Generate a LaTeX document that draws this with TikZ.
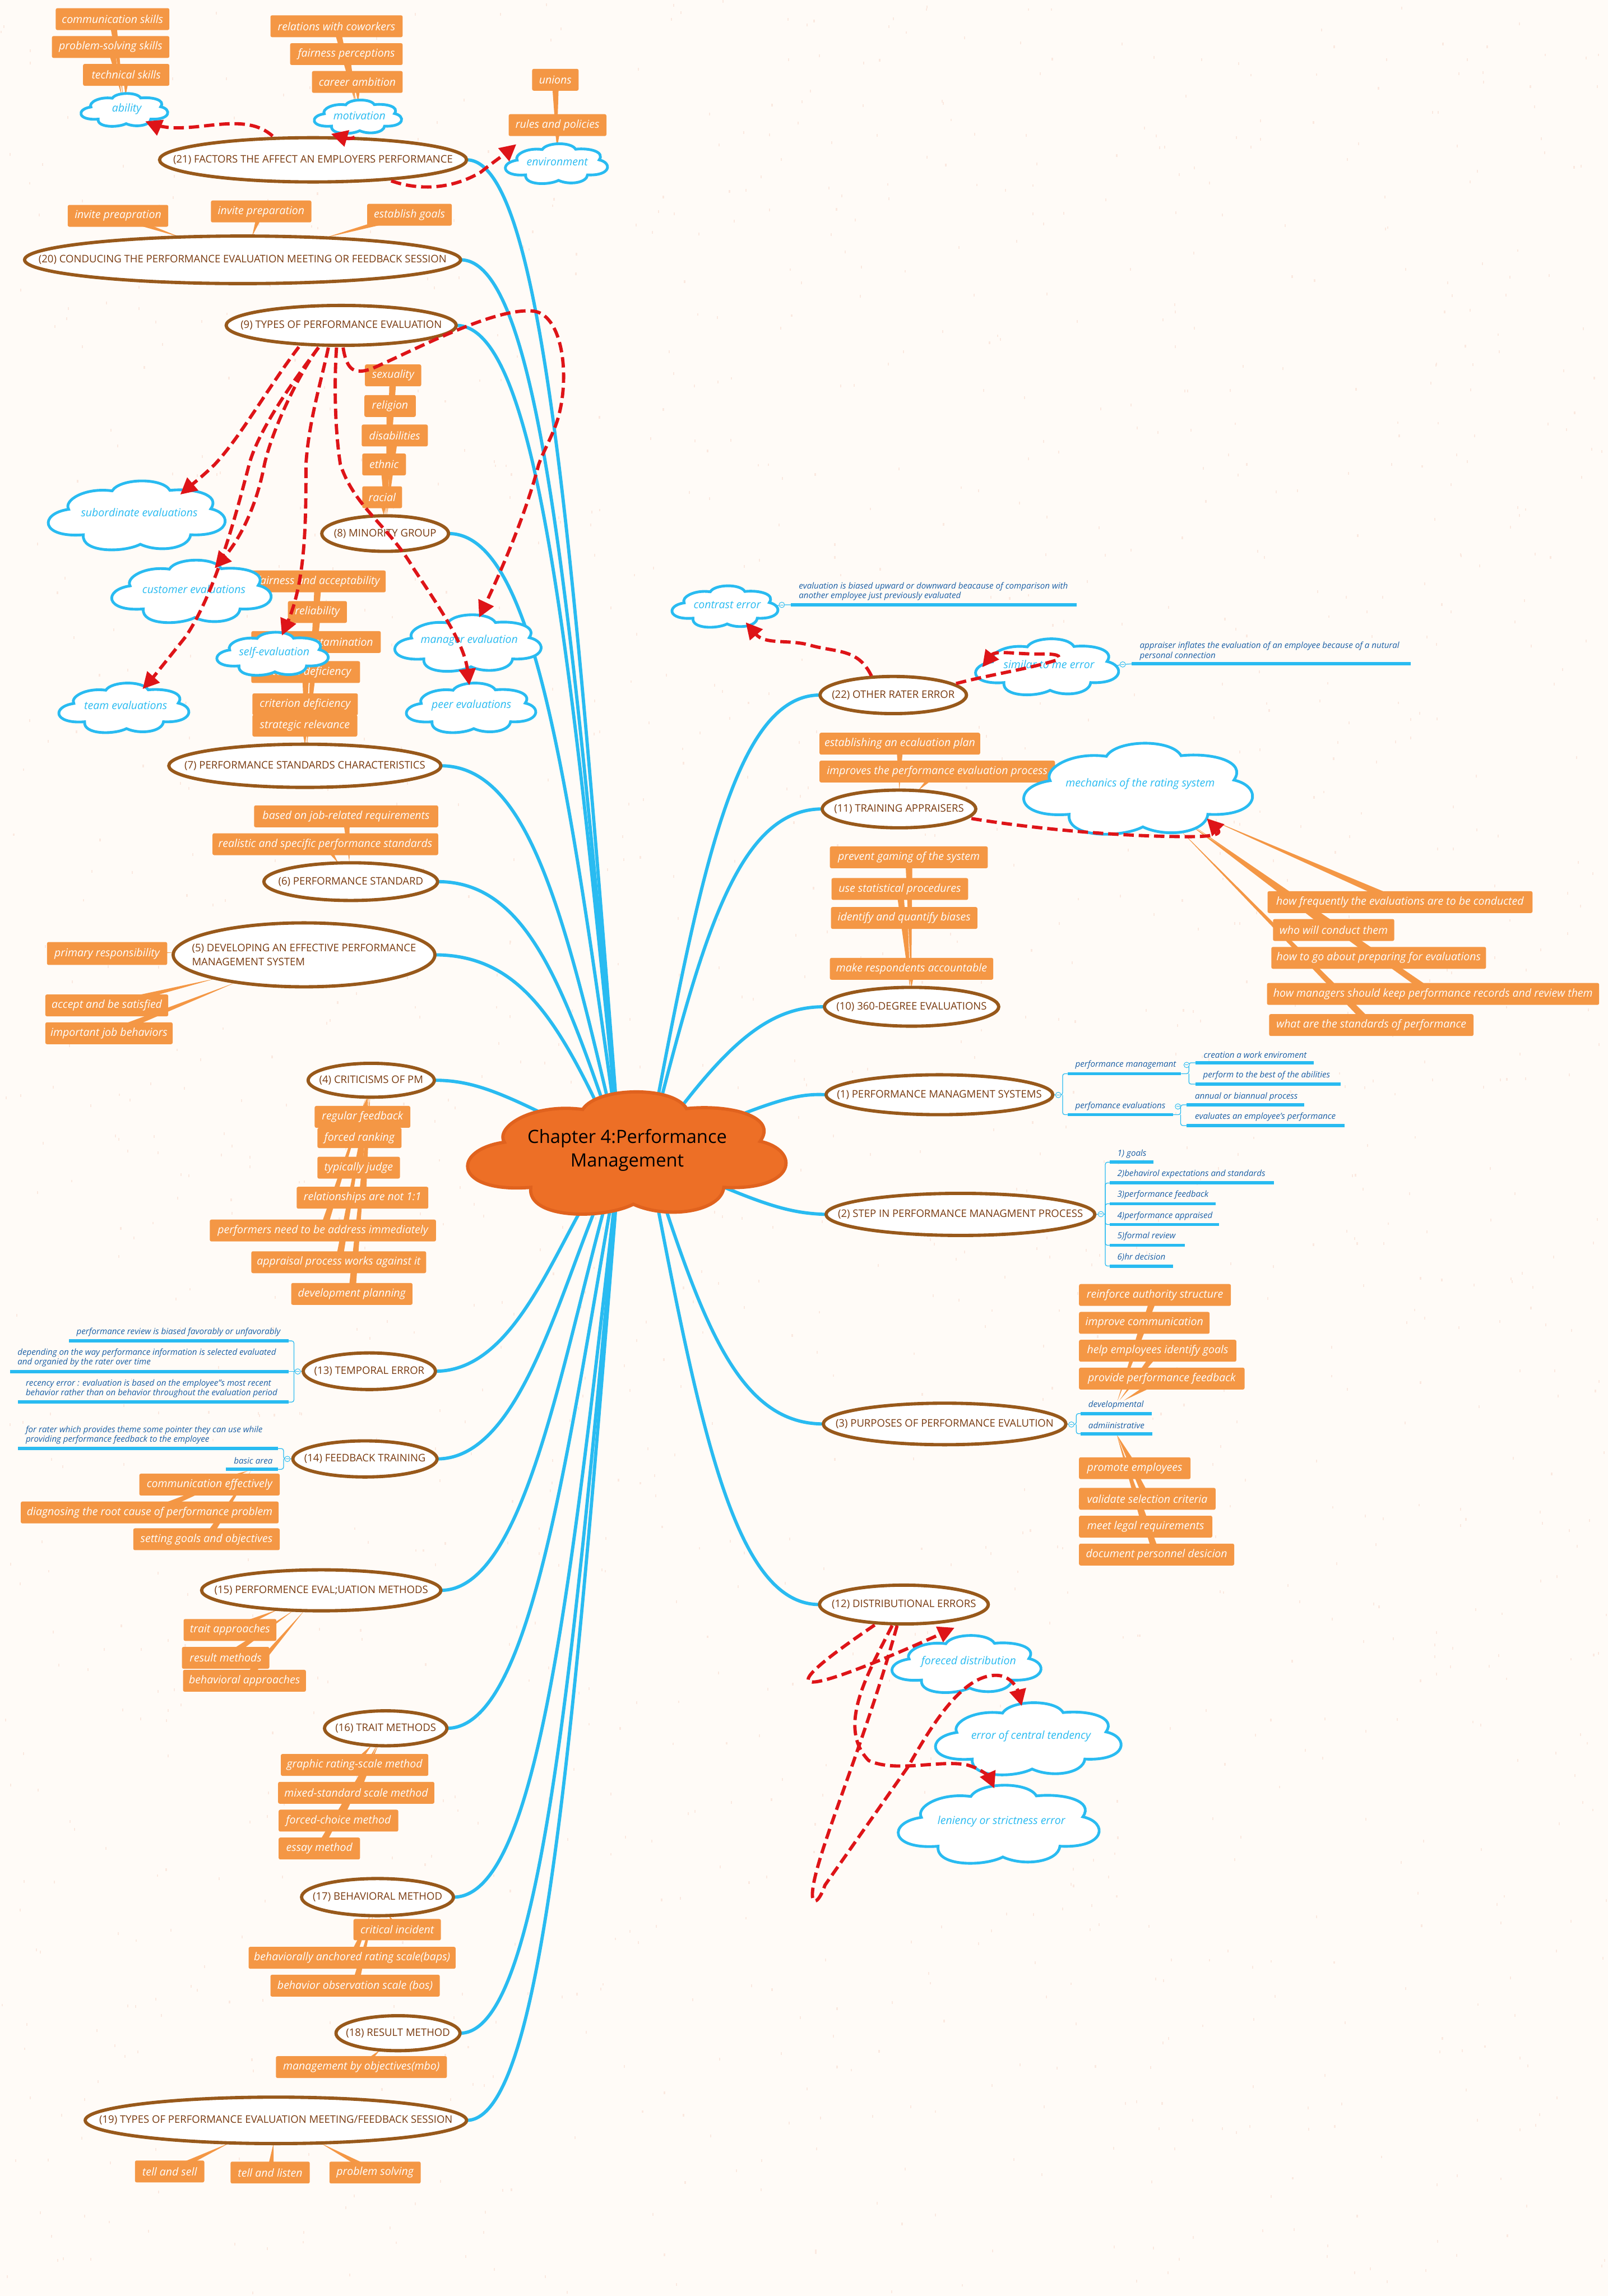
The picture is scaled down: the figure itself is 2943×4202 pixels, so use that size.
\documentclass[tikz,border=0pt]{standalone}
\usepackage{fontspec}
\setmainfont{Open Sans}
\usetikzlibrary{shapes.geometric,calc,arrows.meta}
\pgfdeclarelayer{bg}\pgfdeclarelayer{lines}\pgfdeclarelayer{top}
\pgfsetlayers{bg,lines,main,top}
\definecolor{pagebg}{HTML}{FFFBF7}
\definecolor{speck}{HTML}{FBE9E0}
\definecolor{boxc}{HTML}{F49745}
\definecolor{brownl}{HTML}{98591B}
\definecolor{brownt}{HTML}{7A3B10}
\definecolor{blueb}{HTML}{29BBF1}
\definecolor{notec}{HTML}{1A5FA6}
\definecolor{redc}{HTML}{DE1418}
\definecolor{rootf}{HTML}{ED6F26}
\definecolor{roots}{HTML}{E0621E}
\tikzset{
 x=1pt,y=-1pt,
 obx/.style={rectangle,fill=boxc,rounded corners=3pt,inner sep=0pt,outer sep=0pt,text=white,font=\fontsize{20}{24}\selectfont\itshape},
 tpc/.style={ellipse,draw=brownl,fill=white,line width=6pt,inner sep=0pt,outer sep=0pt},
 tpctxt/.style={inner sep=0pt,text=brownt,font=\fontsize{19}{25}\selectfont,align=left},
 cld/.style={draw=blueb,fill=white,line width=5pt},
 cldtxt/.style={inner sep=0pt,text=blueb,font=\fontsize{20}{24}\selectfont\itshape},
 barsty/.style={rectangle,fill=blueb,inner sep=0pt,outer sep=0pt,minimum height=6pt},
 notesty/.style={inner sep=0pt,anchor=west,align=left,text=notec,font=\fontsize{15.5}{17.7}\selectfont\itshape},
 branch/.style={draw=blueb,line width=6pt},
 brk/.style={draw=blueb,line width=1.3pt,rounded corners=4pt},
 minusc/.style={circle,draw=blueb,line width=1pt,fill=pagebg,inner sep=0pt,minimum size=10pt},
 redl/.style={draw=redc,line width=6pt,dash pattern=on 19pt off 9pt},
 reda/.style={redl,-{Triangle[length=30pt,width=30pt,fill=redc]}},
 tailf/.style={fill=boxc},
}
\newcommand\obox[6]{\node[obx,minimum width={(#3-#2)*1pt},minimum height={(#5-#4)*1pt}] (#1) at ({(#2+#3)/2},{(#4+#5)/2}) {#6};}
\newcommand\topic[6]{\node[tpc,minimum width={(#3-#2-6)*1pt},minimum height={(#5-#4-6)*1pt}] (#1) at ({(#2+#3)/2},{(#4+#5)/2}) {};\node[tpctxt] (#1-t) at (#1.center) {#6};}
\newcommand\cloudpath{(.11,.407) .. controls (.08,.28) and (.2,.09) .. (.356,.143) .. controls (.40,-.04) and (.64,-.05) .. (.682,.136) .. controls (.82,.10) and (.97,.2) .. (.913,.4) .. controls (1.04,.47) and (1.03,.80) .. (.799,.771) .. controls (.79,.97) and (.62,1.03) .. (.515,.907) .. controls (.42,1.03) and (.18,1.03) .. (.193,.771) .. controls (-.05,.82) and (-.06,.47) .. (.11,.407) -- cycle}
\newcommand\cloudt[8]{\draw[cld,shift={(#2,#4)},xscale=#3-#2,yscale=#5-#4] \cloudpath;\node[ellipse,inner sep=0pt,outer sep=0pt,minimum width={(#3-#2)*.85pt},minimum height={(#5-#4)*.85pt}] (#1) at ({(#2+#3)/2},{(#4+#5)/2}) {};\node[cldtxt] (#1-t) at (#6,#7) {#8};}
\newcommand\nb[4]{\node[barsty,minimum width={(#3-#2)*1pt}] (#1) at ({(#2+#3)/2},#4) {};}
\newcommand\nt[4]{\node[notesty] (#1) at (#2,#3) {#4};}
\newcommand\mns[3]{\node[minusc] (#1) at (#2,#3) {};\draw[draw=blueb,line width=1pt] ([xshift=-3pt]#1.center) -- ([xshift=3pt]#1.center);}
\newcommand\tl[2]{\path let \p1=(#1.center),\p2=(#2.center) in \pgfextra{\pgfmathsetmacro\tang{atan2(\y1-\y2,\x1-\x2)}\xdef\tangg{\tang}};
\fill[tailf] let \p1=(#1.center),\p2=(#2.\tangg),\n1={atan2(\y2-\y1,\x2-\x1)} in ({\x1-6.5pt*sin(\n1)},{\y1+6.5pt*cos(\n1)}) -- (\p2) -- ({\x1+6.5pt*sin(\n1)},{\y1-6.5pt*cos(\n1)}) -- cycle;}
\newcommand\br[5]{\draw[branch] let \p1=(#1),\p2=(#2),\n1={\x2-\x1},\n2={\y2-\y1} in (\p1) .. controls ({\x1+#3*\n1},\y1) and ({\x1+#4*\n1},{\y1+#5*\n2}) .. (\p2);}
\begin{document}
\begin{tikzpicture}
\useasboundingbox (0,0) rectangle (2943,4202);
\begin{pgfonlayer}{bg}
\fill[pagebg] (0,0) rectangle (2943,4202);
\pgfmathsetseed{11}
\foreach \i in {1,...,1600}{\pgfmathsetmacro\px{random(0,2940)}\pgfmathsetmacro\py{random(0,4195)}\fill[speck] (\px,\py) rectangle +(2.2,5);}
\end{pgfonlayer}
% boxes
\obox{comm}{102}{310}{15}{55}{communication skills}
\obox{prob}{95}{310}{66}{106}{problem-solving skills}
\obox{tech}{152}{310}{117}{157}{technical skills}
\obox{rela}{495}{737}{28}{68}{relations with coworkers}
\obox{fair}{531}{737}{79}{119}{fairness perceptions}
\obox{care}{571}{737}{130}{170}{career ambition}
\obox{unio}{974}{1059}{126}{166}{unions}
\obox{rule}{931}{1110}{209}{249}{rules and policies}
\obox{ipre}{124}{308}{375}{415}{invite preapration}
\obox{ipar}{386}{570}{367}{407}{invite preparation}
\obox{esta}{672}{827}{373}{413}{establish goals}
\obox{sexu}{668}{771}{667}{707}{sexuality}
\obox{reli}{667}{761}{723}{763}{religion}
\obox{disa}{662}{783}{777}{817}{disabilities}
\obox{ethn}{663}{743}{830}{870}{ethnic}
\obox{raci}{663}{736}{890}{930}{racial}
\obox{facc}{459}{706}{1044}{1084}{fairness and acceptability}
\obox{rbil}{527}{635}{1100}{1140}{reliability}
\obox{ccon}{460}{697}{1155}{1195}{criterion contamination}
\obox{cde1}{460}{659}{1210}{1250}{criterion  deficiency}
\obox{cde2}{462}{655}{1269}{1309}{criterion deficiency}
\obox{stra}{462}{654}{1308}{1348}{strategic relevance}
\obox{jobr}{465}{802}{1474}{1514}{based on job-related requirements}
\obox{real}{389}{802}{1525}{1565}{realistic and specific performance standards}
\obox{prim}{86}{306}{1724}{1766}{primary responsibility}
\obox{acce}{83}{308}{1820}{1860}{accept and be satisfied}
\obox{impo}{83}{316}{1871}{1911}{important job behaviors}
\obox{regu}{576}{751}{2024}{2064}{regular feedback}
\obox{forc}{581}{735}{2064}{2101}{forced ranking}
\obox{typi}{581}{732}{2117}{2157}{typically judge}
\obox{rel1}{543}{784}{2172}{2212}{relationships are not 1:1}
\obox{perf}{384}{798}{2232}{2272}{performers need to be address immediately}
\obox{appr}{460}{780}{2290}{2330}{appraisal process works against it}
\obox{deve}{533}{755}{2348}{2388}{development planning}
\obox{coef}{255}{512}{2697}{2737}{communication effectively}
\obox{diag}{38}{510}{2748}{2788}{diagnosing the root cause of performance problem}
\obox{sett}{244}{512}{2797}{2837}{setting goals and objectives}
\obox{trai}{336}{506}{2963}{3003}{trait approaches}
\obox{resu}{333}{493}{3014}{3054}{result methods}
\obox{beha}{335}{560}{3056}{3096}{behavioral approaches}
\obox{grap}{514}{784}{3210}{3250}{graphic rating-scale method}
\obox{mixe}{509}{795}{3261}{3301}{mixed-standard scale method}
\obox{fcho}{510}{729}{3312}{3352}{forced-choice method}
\obox{essa}{510}{659}{3363}{3403}{essay method}
\obox{crit}{647}{807}{3512}{3551}{critical incident}
\obox{bars}{455}{834}{3563}{3603}{behaviorally anchored rating scale(baps)}
\obox{bobs}{495}{805}{3614}{3654}{behavior observation scale (bos)}
\obox{mbo}{505}{818}{3763}{3803}{management by objectives(mbo)}
\obox{tsel}{247}{374}{3954}{3994}{tell and sell}
\obox{tlis}{422}{567}{3956}{3996}{tell and listen}
\obox{psol}{603}{770}{3956}{3996}{problem solving}
\obox{esta2}{1500}{1794}{1341}{1381}{establishing an ecaluation plan}
\obox{impr}{1500}{1931}{1392}{1432}{improves the performance evaluation process}
\obox{prev}{1519}{1808}{1549}{1589}{prevent gaming of the system}
\obox{usta}{1522}{1772}{1607}{1647}{use statistical procedures}
\obox{iden}{1521}{1789}{1660}{1700}{identify and quantify biases}
\obox{make}{1519}{1818}{1753}{1793}{make respondents accountable}
\obox{hfre}{2320}{2805}{1631}{1671}{how frequently the evaluations are to be conducted}
\obox{whow}{2330}{2552}{1682}{1722}{who will conduct them}
\obox{htog}{2327}{2720}{1733}{1773}{how to go about preparing for evaluations}
\obox{hman}{2319}{2927}{1799}{1839}{how managers should keep performance records and review them}
\obox{wsta}{2323}{2697}{1856}{1896}{what are the standards of performance}
\obox{rein}{1975}{2253}{2350}{2390}{reinforce authority structure}
\obox{icom}{1975}{2214}{2401}{2441}{improve communication}
\obox{help}{1975}{2263}{2452}{2492}{help employees identify goals}
\obox{prov}{1975}{2278}{2503}{2543}{provide performance feedback}
\obox{prom}{1975}{2179}{2667}{2707}{promote employees}
\obox{vali}{1975}{2225}{2723}{2763}{validate selection criteria}
\obox{meet}{1975}{2219}{2774}{2814}{meet legal requirements}
\obox{docu}{1975}{2259}{2825}{2865}{document personnel desicion}
% topics
\topic{t21}{289}{857}{249}{336}{(21) FACTORS THE AFFECT AN EMPLOYERS PERFORMANCE}
\topic{t20}{42}{846}{429}{522}{(20) CONDUCING THE PERFORMANCE EVALUATION MEETING OR FEEDBACK SESSION}
\topic{t9}{411}{838}{556}{635}{(9) TYPES OF PERFORMANCE EVALUATION}
\topic{t8}{586}{824}{941}{1012}{(8) MINORITY GROUP}
\topic{t7}{306}{810}{1359}{1444}{(7) PERFORMANCE STANDARDS CHARACTERISTICS}
\topic{t6}{480}{804}{1576}{1651}{(6) PERFORMANCE STANDARD}
\topic{t5}{314}{799}{1686}{1809}{(5) DEVELOPING AN EFFECTIVE PERFORMANCE\\MANAGEMENT SYSTEM}
\topic{t4}{561}{798}{1943}{2011}{(4) CRITICISMS OF PM}
\topic{t13}{552}{800}{2473}{2546}{(13) TEMPORAL ERROR}
\topic{t14}{533}{803}{2634}{2706}{(14) FEEDBACK TRAINING}
\topic{t15}{366}{810}{2870}{2951}{(15) PERFORMENCE EVAL;UATION METHODS}
\topic{t16}{591}{821}{3128}{3198}{(16) TRAIT METHODS}
\topic{t17}{549}{833}{3435}{3509}{(17) BEHAVIORAL METHOD}
\topic{t18}{612}{845}{3686}{3756}{(18) RESULT METHOD}
\topic{t19}{153}{857}{3835}{3926}{(19) TYPES OF PERFORMANCE EVALUATION MEETING/FEEDBACK SESSION}
\topic{t22}{1498}{1772}{1235}{1309}{(22) OTHER RATER ERROR}
\topic{t11}{1502}{1789}{1443}{1518}{(11) TRAINING APPRAISERS}
\topic{t10}{1506}{1831}{1804}{1881}{(10) 360-DEGREE EVALUATIONS}
\topic{t1}{1509}{1930}{1964}{2043}{(1) PERFORMANCE MANAGMENT SYSTEMS}
\topic{t2}{1509}{2007}{2181}{2264}{(2) STEP IN PERFORMANCE MANAGMENT PROCESS}
\topic{t3}{1504}{1954}{2565}{2647}{(3) PURPOSES OF PERFORMANCE EVALUTION}
\topic{t12}{1497}{1812}{2898}{2975}{(12) DISTRIBUTIONAL ERRORS}
% clouds
\cloudt{abil}{149}{308}{171}{232}{232}{199}{ability}
\cloudt{moti}{576}{736}{183}{245}{658}{212}{motivation}
\cloudt{envi}{926}{1113}{263}{337}{1020}{296}{environment}
\cloudt{subo}{90}{414}{880}{1008}{255}{938}{subordinate evaluations}
\cloudt{cust}{206}{498}{1025}{1141}{355}{1078}{customer evaluations}
\cloudt{self}{398}{602}{1157}{1237}{502}{1194}{self-evaluation}
\cloudt{team}{109}{347}{1250}{1342}{230}{1291}{team evaluations}
\cloudt{mana}{724}{992}{1125}{1230}{859}{1172}{manager evaluation}
\cloudt{peer}{745}{982}{1250}{1342}{863}{1291}{peer evaluations}
\cloudt{cont}{1231}{1425}{1072}{1149}{1331}{1107}{contrast error}
\cloudt{simi}{1787}{2049}{1169}{1273}{1920}{1216}{similar to me error}
\cloudt{mech}{1876}{2295}{1360}{1529}{2087}{1435}{mechanics of the rating system}
\cloudt{fore}{1634}{1907}{2993}{3099}{1773}{3041}{foreced distribution}
\cloudt{cent}{1714}{2054}{3116}{3250}{1887}{3177}{error of central tendency}
\cloudt{leni}{1646}{2014}{3267}{3412}{1833}{3333}{leniency or strictness error}
% root
\draw[draw=roots,fill=rootf,line width=6pt,shift={(859,1998)},xscale=583,yscale=227] \cloudpath;
\node[inner sep=0pt,align=center,text=black,font=\fontsize{33.5}{44}\selectfont] (root) at (1148,2105) {Chapter 4:Performance\\Management};
\coordinate (rootL) at (1135,2110);
\coordinate (rootR) at (1185,2110);
% notes
\nb{n1}{1448}{1971}{1107}\nt{n1t}{1462}{1082.5}{evaluation is biased upward or downward beacause of comparison with\\another employee just previously evaluated}
\nb{n2}{2071}{2582}{1215}\nt{n2t}{2086}{1191.5}{appraiser inflates the evaluation of an employee because of a nutural\\personal connection}
\nb{pm}{1954}{2162}{1965}\nt{pmt}{1968}{1949}{performance managemant}
\nb{pe}{1954}{2147}{2040}\nt{pet}{1968}{2025}{perfomance evaluations}
\nb{cw}{2188}{2405}{1945}\nt{cwt}{2203}{1931}{creation a work enviroment}
\nb{pb}{2188}{2454}{1984}\nt{pbt}{2202}{1968}{perform to the best of the abilities}
\nb{ab}{2172}{2387}{2022}\nt{abt}{2187}{2007}{annual or biannual process}
\nb{ee}{2172}{2461}{2060}\nt{eet}{2187}{2044}{evaluates an employee's performance}
\nb{s1}{2031}{2111}{2127}\nt{s1t}{2045}{2112}{1) goals}
\nb{s2}{2031}{2332}{2165}\nt{s2t}{2045}{2149}{2)behavirol expectations and standards}
\nb{s3}{2031}{2225}{2203}\nt{s3t}{2045}{2187}{3)performance feedback}
\nb{s4}{2031}{2231}{2241}\nt{s4t}{2045}{2226}{4)performance appraised}
\nb{s5}{2031}{2169}{2279}\nt{s5t}{2045}{2263}{5)formal  review}
\nb{s6}{2031}{2147}{2317}\nt{s6t}{2045}{2301}{6)hr decision}
\nb{dv}{1978}{2108}{2587}\nt{dvt}{1992}{2571}{developmental}
\nb{ad}{1978}{2109}{2624}\nt{adt}{1992}{2609}{admiinistrative}
\nb{b1}{126}{528}{2454}\nt{b1t}{140}{2438}{performance review is biased favorably or unfavorably}
\nb{b2}{18}{528}{2510}\nt{b2t}{32}{2485}{depending on the way performance information is selected evaluated\\and organied by the rater over time}
\nb{b3}{33}{528}{2566}\nt{b3t}{47}{2541}{recency error : evaluation is based on the employee"s most recent\\behavior rather than on behavior throughout the evaluation period}
\nb{f1}{33}{509}{2651}\nt{f1t}{47}{2626}{for  rater which provides theme some pointer they can use while\\providing performance feedback to the employee}
\nb{f2}{413}{509}{2689}\nt{f2t}{428}{2673}{basic area}
% collapse markers
\mns{m1}{1431}{1107}\mns{m2}{2055}{1216}\mns{m3}{1937}{2004}\mns{m4}{2172}{1949}\mns{m5}{2156}{2025}\mns{m6}{2015}{2222}\mns{m7}{1961}{2607}\mns{m8}{545}{2510}\mns{m9}{526}{2670}
\begin{pgfonlayer}{lines}
% tails
\foreach \c in {comm,prob,tech}{\tl{\c}{abil}}
\foreach \c in {rela,fair,care}{\tl{\c}{moti}}
\foreach \c in {unio,rule}{\tl{\c}{envi}}
\foreach \c in {ipre,ipar,esta}{\tl{\c}{t20}}
\foreach \c in {sexu,reli,disa,ethn,raci}{\tl{\c}{t8}}
\foreach \c in {facc,rbil,ccon,cde1,cde2,stra}{\tl{\c}{t7}}
\foreach \c in {jobr,real}{\tl{\c}{t6}}
\foreach \c in {prim,acce,impo}{\tl{\c}{t5}}
\foreach \c in {regu,forc,typi,rel1,perf,appr,deve}{\tl{\c}{t4}}
\foreach \c in {coef,diag,sett}{\tl{\c}{f2}}
\foreach \c in {trai,resu,beha}{\tl{\c}{t15}}
\foreach \c in {grap,mixe,fcho,essa}{\tl{\c}{t16}}
\foreach \c in {crit,bars,bobs}{\tl{\c}{t17}}
\tl{mbo}{t18}
\foreach \c in {tsel,tlis,psol}{\tl{\c}{t19}}
\foreach \c in {esta2,impr}{\tl{\c}{t11}}
\foreach \c in {prev,usta,iden,make}{\tl{\c}{t10}}
\foreach \c in {hfre,whow,htog,hman,wsta}{\tl{\c}{mech}}
\foreach \c in {rein,icom,help,prov}{\tl{\c}{dvt}}
\foreach \c in {prom,vali,meet,docu}{\tl{\c}{ad}}
% main branches
\br{t21.east}{rootL}{.5}{.7}{.4}
\br{t20.east}{rootL}{.5}{.7}{.4}
\br{t9.east}{rootL}{.5}{.7}{.4}
\br{t8.east}{rootL}{.5}{.7}{.4}
\br{t7.east}{rootL}{.5}{.7}{.4}
\br{t6.east}{rootL}{.5}{.7}{.4}
\br{t5.east}{rootL}{.5}{.7}{.4}
\draw[branch] (t4.east) .. controls (880,1977) and (940,2010) .. (rootL);
\br{t13.east}{rootL}{.5}{.7}{.75}
\br{t14.east}{rootL}{.5}{.7}{.65}
\br{t15.east}{rootL}{.5}{.7}{.6}
\br{t16.east}{rootL}{.5}{.7}{.5}
\br{t17.east}{rootL}{.5}{.7}{.4}
\br{t18.east}{rootL}{.5}{.7}{.4}
\br{t19.east}{rootL}{.5}{.7}{.4}
\br{t22.west}{rootR}{.5}{.7}{.4}
\br{t11.west}{rootR}{.5}{.7}{.4}
\draw[branch] (t10.west) .. controls (1400,1842) and (1320,1920) .. (rootR);
\draw[branch] (t1.west) .. controls (1450,2000) and (1400,2020) .. (rootR);
\draw[branch] (t2.west) .. controls (1440,2220) and (1390,2205) .. (rootR);
\br{t3.west}{rootR}{.5}{.7}{.4}
\br{t12.west}{rootR}{.5}{.7}{.4}
% brackets
\coordinate (v3) at (1945,2004);
\draw[brk] (m3) -- (v3) |- (pm.west); \draw[brk] (v3) |- (pe.west);
\coordinate (v4) at (2176,1965);
\draw[brk] (pm.east) -- (v4) |- (cw.west); \draw[brk] (v4) |- (pb.west);
\coordinate (v5) at (2161,2040);
\draw[brk] (pe.east) -- (v5) |- (ab.west); \draw[brk] (v5) |- (ee.west);
\coordinate (v6) at (2023,2222);
\draw[brk] (m6) -- (v6);
\foreach \c in {s1,s2,s3,s4,s5,s6}{\draw[brk] (v6) |- (\c.west);}
\coordinate (v7) at (1970,2607);
\draw[brk] (m7) -- (v7) |- (dv.west); \draw[brk] (v7) |- (ad.west);
\coordinate (v8) at (538,2510);
\draw[brk] (m8) -- (v8) |- (b1.east); \draw[brk] (v8) |- (b3.east); \draw[brk] (m8) -- (b2.east);
\coordinate (v9) at (519,2670);
\draw[brk] (m9) -- (v9) |- (f1.east); \draw[brk] (v9) |- (f2.east);
\draw[brk] (cont.east) -- (m1) -- (n1.west);
\draw[brk] (simi.east) -- (m2) -- (n2.west);
\draw[brk] (t1.east) -- (m3);
\draw[brk] (t2.east) -- (m6);
\draw[brk] (t3.east) -- (m7);
\draw[brk] (t13.west) -- (m8);
\draw[brk] (t14.west) -- (m9);
\end{pgfonlayer}
\begin{pgfonlayer}{top}
\coordinate (e21a) at (499,249); \coordinate (e21b) at (649,251); \coordinate (e21c) at (716,331);
\coordinate (tabil) at (266,222); \coordinate (tmoti) at (606,245); \coordinate (tenvi) at (945,264);
\draw[reda] (e21a) .. controls (450,205) and (370,240) .. (306,233) .. controls (292,231) and (280,228) .. (tabil);
\draw[reda] (e21b) .. controls (640,256) and (630,252) .. (tmoti);
\draw[reda] (e21c) .. controls (770,350) and (830,345) .. (880,315) .. controls (905,295) and (920,285) .. (tenvi);
\coordinate (e9a) at (547,635); \coordinate (e9b) at (583,636); \coordinate (e9c) at (601,636); \coordinate (e9d) at (616,636); \coordinate (e9e) at (628,636);
\coordinate (tsubo) at (330,905); \coordinate (tcust) at (393,1040); \coordinate (tteam) at (261,1261); \coordinate (tself) at (516,1163); \coordinate (tpeer) at (859,1254); \coordinate (tmana) at (877,1130);
\draw[reda] (e9a) .. controls (490,710) and (440,800) .. (393,850) .. controls (375,868) and (350,888) .. (tsubo);
\draw[reda] (e9b) .. controls (550,680) and (500,780) .. (484,850) .. controls (470,925) and (440,985) .. (tcust);
\draw[reda] (e9b) .. controls (550,680) and (475,780) .. (456,850) .. controls (425,970) and (390,1090) .. (340,1165) .. controls (320,1190) and (280,1240) .. (tteam);
\draw[reda] (e9c) .. controls (590,690) and (565,770) .. (560,850) .. controls (560,950) and (560,1060) .. (tself);
\draw[reda] (e9d) .. controls (612,690) and (612,780) .. (623,850) .. controls (650,930) and (710,960) .. (758,1042) .. controls (810,1120) and (850,1180) .. (tpeer);
\draw[reda] (e9e) .. controls (635,680) and (650,685) .. (680,675) .. controls (760,640) and (900,565) .. (972,569) .. controls (1030,570) and (1045,690) .. (1020,770) .. controls (1010,800) and (995,825) .. (986,850) .. controls (960,950) and (910,1060) .. (tmana);
\coordinate (e22a) at (1595,1237); \coordinate (e22b) at (1750,1251); \coordinate (tcont) at (1365,1139); \coordinate (tsimi) at (1798,1221);
\draw[reda] (e22a) .. controls (1570,1185) and (1530,1195) .. (1480,1180) .. controls (1440,1170) and (1400,1180) .. (tcont);
\draw[reda] (e22b) .. controls (1810,1235) and (1880,1225) .. (1934,1208) .. controls (1945,1200) and (1935,1196) .. (1900,1197) .. controls (1860,1197) and (1822,1190) .. (tsimi);
\coordinate (e11a) at (1778,1498); \coordinate (tmech) at (2209,1498);
\draw[reda] (e11a) .. controls (1900,1518) and (2050,1530) .. (2156,1531) .. controls (2200,1532) and (2240,1530) .. (tmech);
\coordinate (e12a) at (1601,2974); \coordinate (e12b) at (1633,2975); \coordinate (e12c) at (1642,2975);
\coordinate (tfore) at (1747,2979); \coordinate (tcent) at (1870,3122); \coordinate (tleni) at (1820,3273);
\draw[reda] (e12a) .. controls (1370,3130) and (1500,3090) .. (tfore);
\draw[reda] (e12b) .. controls (1590,3060) and (1530,3160) .. (1590,3222) .. controls (1640,3245) and (1720,3220) .. (1770,3230) .. controls (1800,3238) and (1812,3255) .. (tleni);
\draw[reda] (e12c) .. controls (1580,3200) and (1490,3400) .. (1487,3465) .. controls (1486,3490) and (1500,3480) .. (1510,3450) -- (1663,3232) .. controls (1720,3130) and (1770,3066) .. (1823,3066) .. controls (1850,3066) and (1862,3090) .. (tcent);
\end{pgfonlayer}
\end{tikzpicture}
\end{document}
